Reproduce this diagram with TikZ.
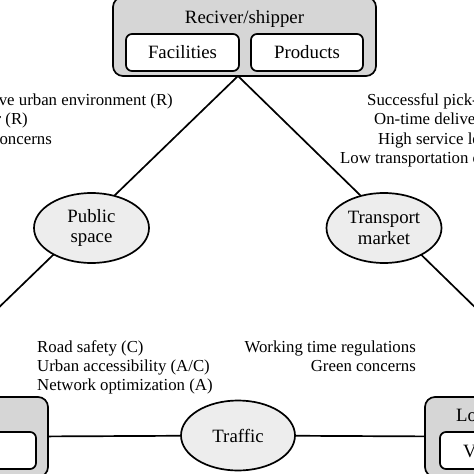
\documentclass[tikz,border=0pt]{standalone}
\usepackage{fontspec}
\setmainfont{Liberation Serif}
\usetikzlibrary{shapes.geometric}
\definecolor{boxgray}{HTML}{D6D6D6}
\definecolor{ellgray}{HTML}{EDEDED}
\newcommand{\nodetextfont}{\fontsize{18.8}{20.5}\selectfont}
\newcommand{\annotfont}{\fontsize{16.8}{19.5}\selectfont}

\begin{document}
\begin{tikzpicture}[
        x=1pt, y=-1pt,
        outerbox/.style={draw,line width=1.7pt,fill=boxgray,rounded corners=10pt,
            inner sep=0pt},
        innerbox/.style={draw,line width=1.7pt,fill=white,rounded corners=6pt,
            inner sep=0pt,font=\nodetextfont},
        actor/.style={ellipse,draw,line width=1.7pt,fill=ellgray,inner sep=0pt,
            minimum width=115pt,minimum height=70pt,align=center,font=\nodetextfont},
        note/.style={inner sep=0pt,font=\annotfont},
        title/.style={inner sep=0pt,font=\nodetextfont},
        link/.style={line width=1.7pt},
    ]
\useasboundingbox (0,0) rectangle (474,474);
\clip (0,0) rectangle (474,474);

% corners of the triangle
\coordinate (apex) at (238,76);
\coordinate (lcorner) at (-135,437);
\coordinate (rcorner) at (608,437);
\draw[link] (apex) -- (lcorner);
\draw[link] (apex) -- (rcorner);

% receiver/shipper
\node[outerbox,minimum width=263pt,minimum height=79pt] (shipper) at (244.5,36.5) {};
\node[title,anchor=base] (shippertitle) at (244.5,23) {Reciver/shipper};
\node[innerbox,minimum width=113pt,minimum height=37pt] (facilities) at (182.5,52.5) {Facilities};
\node[innerbox,minimum width=112pt,minimum height=37pt] (products) at (307,52.5) {Products};

% the three relations
\node[actor] (pub) at (91.5,228) {Public\\space};
\node[actor] (market) at (384,228) {Transport\\market};
\node[actor,minimum width=114pt] (traffic) at (238,435.5) {Traffic};

% bottom corners
\node[outerbox,minimum width=248pt,minimum height=80pt] (lbox) at (-76,437) {};
\node[innerbox,minimum width=226pt,minimum height=37pt] (lveh) at (-77,450.5) {};
\node[outerbox,minimum width=255pt,minimum height=80pt] (rbox) at (552.5,437) {};
\node[title,anchor=base west] (rboxtitle) at (456,421) {Logistics};
\node[innerbox,minimum width=240pt,minimum height=37pt] (rveh) at (560,450.5) {};
\node[title,anchor=base west] (vehicles) at (463,457) {Vehicles};

\draw[link] (lbox) -- (traffic);
\draw[link] (traffic) -- (rbox);

% public space criteria
\node[note,anchor=base east] (environment) at (173,105.5) {Attractive urban environment (R)};
\node[note,anchor=base east] (air) at (28,124.5) {Clean air (R)};
\node[note,anchor=base east] (greenl) at (52,144.5) {Green concerns};

% transport market criteria
\node[note,anchor=base west] (pickup) at (367,105.5) {Successful pick-up};
\node[note,anchor=base west] (ontime) at (374,124.5) {On-time delivery};
\node[note,anchor=base west] (service) at (378,144.5) {High service level};
\node[note,anchor=base west] (cost) at (340,163.5) {Low transportation cost};

% traffic criteria
\node[note,anchor=base west] (safety) at (37,352.5) {Road safety (C)};
\node[note,anchor=base west] (access) at (37,371.5) {Urban accessibility (A/C)};
\node[note,anchor=base west] (network) at (37,390.5) {Network optimization (A)};
\node[note,anchor=base east] (working) at (416,352.5) {Working time regulations};
\node[note,anchor=base east] (greenr) at (416,371.5) {Green concerns};
\end{tikzpicture}
\end{document}
